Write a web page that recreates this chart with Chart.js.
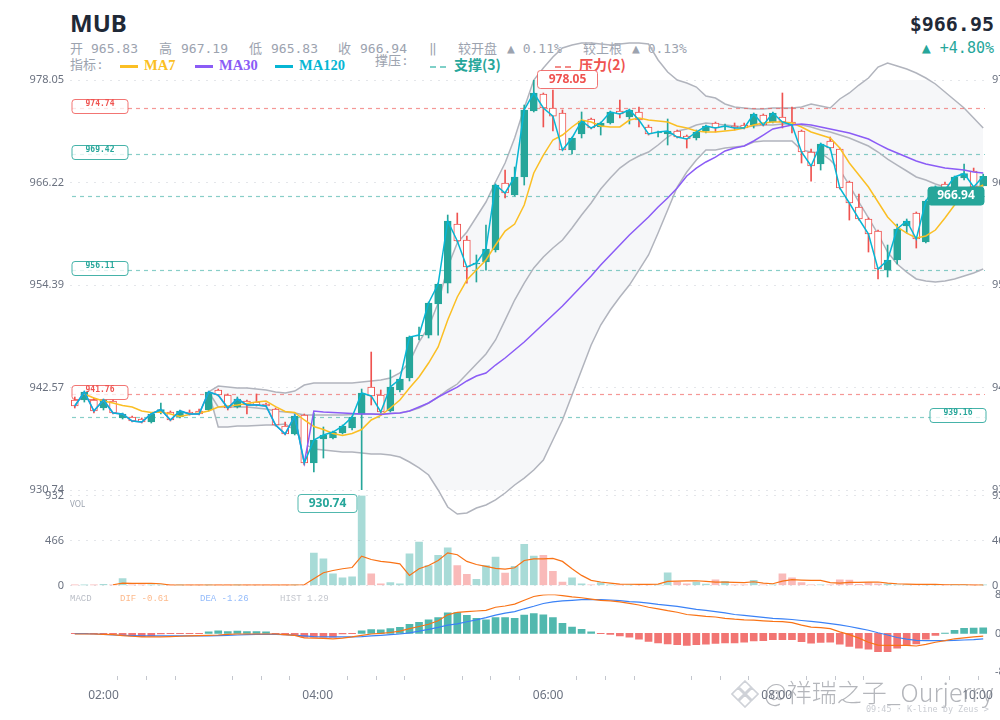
<!DOCTYPE html>
<html>
<head>
<meta charset="utf-8">
<title>MUB</title>
<script src="https://cdn.jsdelivr.net/npm/chart.js@4"></script>
<style>
  html, body { margin: 0; padding: 0; background: #fff; }
  body { width: 1000px; height: 720px; position: relative; overflow: hidden; font-family: "Noto Sans", sans-serif; }
  canvas { position: absolute; left: 0; }
  .t { position: absolute; white-space: nowrap; line-height: 1; }
  .mono { font-family: "DejaVu Sans Mono", "Noto Sans CJK SC", monospace; }
  .grey { color: #9ca3af; font-size: 13px; top: 42px; }
  .ma { font-family: "Liberation Serif", serif; font-weight: bold; font-size: 14.5px; top: 58px; }
  .key { position: absolute; top: 65px; width: 18px; height: 3px; }
  .lvl { font-family: "Noto Sans CJK SC", sans-serif; font-weight: bold; font-size: 14px; top: 57px; }
  .dash { position: absolute; top: 66px; width: 16px; height: 0; border-top: 2px dashed; }
  .sub { font-family: "Liberation Mono", monospace; font-size: 9px; top: 595px; }
</style>
</head>
<body>
<div class="t" style="left:70px;top:11px;font-size:24px;font-weight:bold;color:#1f2937">MUB</div>
<div class="t mono" style="right:6px;top:14px;font-size:20px;font-weight:bold;color:#1f2937">$966.95</div>
<div class="t mono" style="right:6px;top:41px;font-size:15px;color:#26a69a">▲ +4.80%</div>

<div class="t mono grey" style="left:70px">开</div><div class="t mono grey" style="left:91px">965.83</div>
<div class="t mono grey" style="left:159px">高</div><div class="t mono grey" style="left:181px">967.19</div>
<div class="t mono grey" style="left:249px">低</div><div class="t mono grey" style="left:271px">965.83</div>
<div class="t mono grey" style="left:338px">收</div><div class="t mono grey" style="left:360px">966.94</div>
<div class="t mono grey" style="left:429px">‖</div>
<div class="t mono grey" style="left:458px">较开盘</div><div class="t mono grey" style="left:507px">▲ 0.11%</div>
<div class="t mono grey" style="left:583px">较上根</div><div class="t mono grey" style="left:632px">▲ 0.13%</div>

<div class="t mono grey" style="left:70px;top:58px">指标:</div>
<div class="key" style="left:120px;background:#fbbf24"></div><div class="t ma" style="left:144px;color:#fbbf24">MA7</div>
<div class="key" style="left:195px;background:#8b5cf6"></div><div class="t ma" style="left:219px;color:#8b5cf6">MA30</div>
<div class="key" style="left:275px;background:#06b6d4"></div><div class="t ma" style="left:299px;color:#06b6d4">MA120</div>
<div class="t mono grey" style="left:375px;top:54px">撑压:</div>
<div class="dash" style="left:430px;border-color:#7fd0c8"></div><div class="t lvl" style="left:454px;color:#26a69a">支撑(3)</div>
<div class="dash" style="left:555px;border-color:#f28b88"></div><div class="t lvl" style="left:579px;color:#ef5350">压力(2)</div>

<canvas id="volChart" width="1000" height="115" style="top:483px"></canvas>
<canvas id="macdChart" width="1000" height="139" style="top:581px"></canvas>
<canvas id="priceChart" width="1000" height="495" style="top:30px"></canvas>

<div class="t" style="left:70px;top:500px;font-size:8px;color:#9ca3af">VOL</div>
<div class="t sub" style="left:70px;color:#b9bdc6">MACD</div>
<div class="t sub" style="left:120px;color:#fdba8c">DIF -0.61</div>
<div class="t sub" style="left:200px;color:#93bbfb">DEA -1.26</div>
<div class="t sub" style="left:280px;color:#c4c7ce">HIST 1.29</div>

<svg style="position:absolute;left:731px;top:680px" width="28" height="28" viewBox="0 0 28 28" fill="none" stroke="#cfd2d8" stroke-width="1.6">
  <path d="M14 1 L20 7 L14 13 L8 7 Z M14 15 L20 21 L14 27 L8 21 Z M7 8 L13 14 L7 20 L1 14 Z M21 8 L27 14 L21 20 L15 14 Z"/>
</svg>
<div class="t" style="left:764px;top:679px;font-family:'Noto Sans CJK SC',sans-serif;font-weight:300;font-size:25px;color:rgba(130,134,142,.6)">@祥瑞之子_Ourjerry</div>
<div class="t" style="left:866px;top:705px;font-family:'DejaVu Sans Mono',monospace;font-size:8.5px;color:#c9ccd2">09:45 · K-line by Zeus &gt;</div>

<script>
const times = ['01:50','01:55','02:00','02:05','02:10','02:15','02:20','02:25','02:30','02:35','02:40','02:45','02:50','02:55','03:00','03:05','03:10','03:15','03:20','03:25','03:30','03:35','03:40','03:45','03:50','03:55','04:00','04:05','04:10','04:15','04:20','04:25','04:30','04:35','04:40','04:45','04:50','04:55','05:00','05:05','05:10','05:15','05:20','05:25','05:30','05:35','05:40','05:45','05:50','05:55','06:00','06:05','06:10','06:15','06:20','06:25','06:30','06:35','06:40','06:45','06:50','06:55','07:00','07:05','07:10','07:15','07:20','07:25','07:30','07:35','07:40','07:45','07:50','07:55','08:00','08:05','08:10','08:15','08:20','08:25','08:30','08:35','08:40','08:45','08:50','08:55','09:00','09:05','09:10','09:15','09:20','09:25','09:30','09:35','09:40','09:45'];

const opens = [941.12,941.12,941.12,940.20,941.01,939.05,939.16,938.93,938.59,939.74,939.74,939.16,939.74,939.86,939.97,942.28,941.70,940.32,941.01,940.89,940.66,940.09,938.12,937.20,939.39,933.86,936.62,936.74,937.32,937.89,939.51,942.62,941.70,939.86,942.28,943.66,948.51,948.62,952.20,954.62,961.43,959.59,956.82,957.05,958.43,966.16,964.78,966.86,974.47,976.43,974.82,974.24,969.97,971.82,973.55,972.63,973.09,974.47,973.78,974.36,972.63,971.93,971.82,972.16,971.59,971.36,972.16,973.09,972.63,972.74,972.86,972.86,974.01,973.20,973.78,973.20,972.16,969.74,968.36,971.01,970.09,966.28,963.40,962.01,960.62,956.12,957.28,961.20,962.70,959.36,964.09,966.05,965.59,966.74,967.55,965.83];
const highs = [941.47,942.16,941.36,941.24,941.12,939.62,939.28,939.05,939.62,940.78,939.86,939.97,939.97,940.09,942.16,942.39,941.82,941.47,941.12,941.82,940.78,940.20,938.59,939.51,939.51,939.62,938.01,937.55,938.24,939.28,942.39,946.66,942.28,944.59,943.66,948.51,949.55,952.43,954.62,962.47,962.70,960.05,957.86,961.32,966.05,967.66,968.01,975.16,978.05,976.55,976.89,974.59,971.47,974.36,973.66,973.20,974.47,975.74,974.70,974.93,972.86,972.16,973.55,972.28,971.70,972.28,972.86,973.20,972.97,973.09,973.09,974.24,974.13,974.36,976.55,974.93,972.28,970.09,970.78,971.47,970.20,966.39,964.89,962.13,960.74,959.01,961.43,962.01,962.82,964.20,965.83,966.28,966.97,968.36,967.89,967.19];
const lows = [940.20,940.89,939.62,939.97,939.51,938.93,938.59,938.47,938.47,939.51,938.70,939.05,939.39,939.39,939.86,941.59,939.97,940.20,939.51,940.43,940.32,938.12,937.09,937.09,933.62,932.82,934.43,936.62,937.20,937.66,930.74,940.55,939.62,939.74,942.05,943.32,948.05,948.28,948.62,953.47,959.36,954.62,954.74,956.12,958.20,964.43,964.66,965.93,974.36,972.63,972.16,969.97,969.51,971.36,972.40,971.70,972.97,973.66,972.97,972.63,971.70,971.47,970.55,971.36,970.20,971.13,971.93,972.05,972.28,972.28,972.40,972.51,972.74,973.09,972.51,971.93,968.47,966.39,967.66,969.97,965.47,961.89,961.89,958.20,955.09,955.32,956.82,960.39,958.66,959.24,963.97,965.12,965.47,966.51,965.59,965.83];
const closes = [940.43,942.05,939.86,941.12,939.62,939.51,938.70,938.59,939.51,940.03,938.82,939.86,939.51,939.51,942.05,941.70,940.20,941.24,940.55,940.55,940.43,938.24,937.20,939.28,933.86,936.51,937.09,937.43,938.12,939.16,941.93,941.59,939.74,942.62,943.55,948.39,948.62,952.32,954.51,961.78,959.47,956.47,956.93,958.55,965.93,965.01,966.86,974.59,976.55,974.82,973.89,969.97,971.36,973.32,972.51,973.09,974.36,974.13,974.59,973.43,971.82,972.05,972.16,971.47,971.24,972.05,972.74,972.51,972.74,972.51,972.51,974.13,972.86,974.24,973.20,972.86,969.74,968.13,970.66,970.20,965.59,963.86,962.01,960.28,956.24,957.28,960.86,961.78,959.70,964.09,965.70,965.36,966.86,967.26,965.70,966.94];

const ma7 = [null,941.82,941.36,941.01,940.78,940.49,940.32,939.86,939.68,939.74,939.51,939.22,939.45,939.62,939.86,940.32,940.43,940.55,940.72,940.89,941.01,940.37,939.80,939.68,938.82,938.07,937.72,937.26,937.03,937.26,937.72,938.82,939.34,940.20,941.12,942.51,943.78,945.39,947.24,950.35,953.01,954.97,956.12,957.28,959.01,960.62,961.43,963.63,967.32,969.39,971.13,971.70,972.63,973.43,973.20,972.74,972.63,972.63,973.43,973.66,973.43,973.32,973.20,972.74,972.51,972.16,972.05,972.05,972.16,972.28,972.51,972.86,973.09,973.20,973.20,973.09,972.63,972.05,971.70,971.36,970.20,968.47,967.09,965.70,963.97,962.24,961.09,960.39,959.82,960.05,960.74,962.13,963.63,964.43,965.36,965.93];
const ma30 = [940.43,942.05,939.86,941.12,939.62,939.51,938.70,938.59,939.51,940.03,938.82,939.86,939.51,939.51,942.05,941.70,940.20,941.24,940.55,940.55,940.43,938.24,937.20,939.28,933.86,939.86,939.74,939.68,939.62,939.57,939.51,939.51,939.45,939.57,939.62,939.86,940.32,940.78,941.47,942.05,942.62,943.32,943.89,944.24,945.16,945.97,946.89,947.82,948.86,949.89,950.93,951.97,953.12,954.28,955.43,956.70,957.86,959.01,960.16,961.20,962.24,963.40,964.43,965.59,966.97,967.89,968.59,969.16,969.86,970.20,970.43,971.01,971.70,972.40,972.63,972.86,972.97,972.86,972.63,972.40,972.16,971.93,971.59,971.24,970.66,970.09,969.63,969.16,968.70,968.36,968.13,967.89,967.78,967.66,967.43,967.32];
const ma120 = closes;

const bollUpper = [null,null,null,null,null,null,null,null,null,null,null,null,null,null,942.05,942.74,942.62,942.51,942.51,942.39,942.28,942.05,941.93,942.16,942.85,943.09,943.09,943.09,943.09,943.09,943.20,943.32,943.43,943.66,944.24,945.51,947.82,949.55,952.32,956.47,959.24,960.51,962.24,963.97,966.28,968.47,971.36,974.82,978.05,979.43,980.70,981.74,982.09,982.32,982.32,982.20,982.09,982.20,982.32,982.32,982.20,980.36,978.97,978.05,977.70,977.24,976.20,975.97,975.28,974.93,974.82,974.70,974.70,974.82,974.82,974.82,974.93,975.28,975.05,974.82,975.86,976.55,977.47,978.28,979.55,980.01,979.66,979.32,978.86,978.28,977.59,976.66,975.74,974.82,973.66,972.51];
const bollMid = [null,null,null,null,null,null,null,null,null,null,null,null,null,null,942.05,940.32,940.32,940.32,940.32,940.20,940.09,939.86,939.74,939.62,939.39,939.39,939.39,939.39,939.39,939.45,939.51,939.51,939.51,939.57,939.62,939.86,940.20,940.78,941.47,942.28,942.97,944.12,945.28,946.43,948.05,950.35,952.66,954.62,956.36,957.62,958.66,959.59,960.97,962.47,963.86,965.47,966.74,967.89,968.70,969.28,969.74,970.55,971.47,972.16,972.40,972.86,973.09,972.97,972.86,972.74,972.63,972.74,972.86,972.86,972.97,972.97,972.86,972.63,972.28,972.05,971.70,971.36,970.89,970.43,969.74,968.93,968.24,967.55,966.86,966.51,966.05,965.70,965.59,965.59,965.70,965.81];
const bollLower = [null,null,null,null,null,null,null,null,null,null,null,null,null,null,942.05,938.01,938.01,938.12,938.12,938.18,938.24,938.24,938.36,937.66,936.05,935.47,935.36,935.24,935.12,935.12,935.01,934.89,934.89,934.78,934.55,933.97,933.28,932.47,930.74,928.78,927.97,928.09,928.66,929.01,929.59,930.39,931.32,932.12,933.05,934.20,936.51,938.82,941.70,944.59,947.47,949.78,951.51,953.01,954.39,956.12,957.86,960.39,963.05,965.70,967.43,968.82,969.97,969.97,970.20,970.32,970.43,970.89,971.01,971.01,971.01,971.01,969.97,969.74,969.63,968.82,967.66,965.93,963.97,962.13,960.28,958.20,956.82,955.89,955.09,954.86,954.74,954.86,955.09,955.43,955.78,956.24];

const volumes = [3,3,3,10,3,70,3,3,3,3,3,3,3,3,3,3,3,3,3,3,3,3,3,5,7,335,276,121,79,90,932,121,17,28,17,328,449,207,311,390,207,114,62,207,293,128,197,425,304,311,145,35,79,17,7,28,5,3,3,3,3,3,131,35,17,35,14,59,41,3,3,52,5,5,121,79,28,7,7,7,59,55,10,28,17,14,5,4,4,3,3,3,3,3,3,3];
const volMa = [null,null,null,null,7,24,22,21,21,17,3,3,3,3,3,3,3,3,3,3,3,3,3,3,7,69,131,155,173,186,304,269,249,238,224,104,173,207,259,338,318,249,217,197,176,169,183,259,276,276,280,249,173,104,52,35,24,14,12,10,10,14,41,45,47,48,41,35,35,31,28,38,24,17,45,59,55,52,52,28,24,31,31,35,35,24,17,14,10,10,10,7,7,7,3,3];

const macdHist = [-0.05,-0.05,-0.1,-0.1,-0.2,-0.36,-0.57,-0.72,-0.57,-0.14,-0.07,-0.07,-0.07,-0.07,0.36,0.57,0.43,0.5,0.43,0.43,0.36,-0.14,-0.36,-0.36,-0.86,-0.86,-0.86,-0.86,-0.14,-0.07,0.57,0.86,0.79,1.07,1.36,2.07,2.5,3.07,3.57,4.65,4.72,4.08,3.43,3.07,3.57,3.57,3.43,4.15,4.5,4.22,3.57,2.29,1.43,0.93,0.36,-0.07,-0.21,-0.57,-0.86,-1.29,-1.79,-2.15,-2.36,-2.57,-2.72,-2.57,-2.43,-2.29,-2.15,-2.15,-2.0,-1.72,-1.65,-1.43,-1.43,-1.43,-1.86,-2.22,-2.07,-2.0,-2.43,-2.93,-3.36,-3.58,-4.15,-4.15,-3.36,-2.72,-2.36,-1.29,-0.43,0.07,0.72,1.14,1.22,1.29];
const macdDif = [-0.14,-0.14,-0.14,-0.21,-0.29,-0.5,-0.64,-0.79,-0.79,-0.79,-0.72,-0.64,-0.57,-0.5,-0.43,-0.36,-0.21,-0.14,-0.14,-0.14,-0.14,-0.14,-0.29,-0.43,-1.0,-1.07,-1.14,-1.22,-1.07,-0.79,-0.43,-0.14,0,0.21,0.5,1.07,1.57,2.07,2.86,4.22,4.79,4.93,5.08,5.22,5.93,6.22,6.65,7.51,8.37,8.72,8.87,8.58,8.29,8.08,7.79,7.51,7.36,7.15,6.79,6.44,5.93,5.58,5.15,4.79,4.29,4.08,3.86,3.72,3.43,3.22,3.07,3.0,2.86,2.72,2.65,2.43,1.86,1.43,1.29,1.07,0.36,-0.29,-1.07,-2.0,-2.65,-2.72,-2.72,-2.72,-2.86,-2.5,-2.0,-1.64,-1.22,-1.0,-0.79,-0.61];
const macdDea = [-0.07,-0.07,-0.14,-0.21,-0.36,-0.43,-0.5,-0.57,-0.57,-0.57,-0.57,-0.57,-0.57,-0.57,-0.57,-0.5,-0.43,-0.36,-0.29,-0.21,-0.21,-0.21,-0.29,-0.43,-0.57,-0.72,-0.79,-0.79,-0.79,-0.79,-0.72,-0.57,-0.43,-0.29,-0.14,0.14,0.5,0.93,1.36,1.86,2.15,2.65,3.07,3.58,4.15,4.58,4.93,5.58,6.15,6.79,7.15,7.36,7.51,7.65,7.65,7.65,7.58,7.44,7.22,7.08,6.86,6.58,6.36,6.15,5.79,5.43,5.22,4.93,4.65,4.29,4.08,3.86,3.65,3.43,3.29,3.15,2.93,2.72,2.5,2.22,1.93,1.57,1.14,0.72,0.14,-0.36,-0.93,-1.29,-1.57,-1.64,-1.64,-1.64,-1.57,-1.5,-1.43,-1.26];

const priceTicks = [978.05, 966.22, 954.39, 942.57, 930.74];
const volTicks = [932, 466, 0];
const macdTicks = [8.8, 0, -8.8];
const xLabels = ['02:00', '04:00', '06:00', '08:00', '10:00'];
const xLabelPos = [3, 25.4, 49.5, 73.4, 94.4];
const xMarkPos = [4.5, 7.5, 10.5, 16.5, 19.5, 22.5, 28.5, 31.5, 34.5, 40.5, 43.5, 46.5, 52.5, 55.5, 58.5, 64.5, 67.5, 70.5, 76.5, 79.5, 82.5, 88.5, 91.5, 94.5];
const supportLevels = [969.42, 964.66, 956.11, 939.16];
const resistLevels = [974.74, 941.76];

const UP = '#26a69a';
const DOWN = '#ef5350';
const isUp = i => closes[i] >= opens[i];
const zip2 = (a, b) => a.map((v, i) => [v, b[i]]);

const AREA_LEFT = 70, AXIS_RIGHT = 12;
const dotted = { color: '#e4e6ea', drawTicks: false };

function yAxes(ticks, min, max, fmt, rightPad, gridOn) {
    const setTicks = s => { s.ticks = ticks.map(v => ({ value: v })); };
    const base = { min, max, border: { display: false, dash: [2, 6] }, afterBuildTicks: setTicks };
    return {
        y: { ...base, position: 'left', grid: gridOn ? dotted : { display: false },
             ticks: { padding: 6, color: '#6b7280', font: { size: 11, family: '"Noto Sans"' }, autoSkip: false, callback: fmt,
                      display: ticks !== macdTicks },
             afterFit: s => { s.width = AREA_LEFT; } },
        yr: { ...base, position: 'right', grid: { display: false, drawTicks: false },
              ticks: { padding: rightPad, color: '#6b7280', font: { size: 11, family: '"Noto Sans"' }, autoSkip: false, callback: fmt },
              afterFit: s => { s.width = AXIS_RIGHT; } }
    };
}
const hiddenX = { type: 'category', offset: true, display: false };
const baseOpts = { responsive: false, animation: false, events: [], devicePixelRatio: 1,
    plugins: { legend: { display: false }, tooltip: { enabled: false } },
    datasets: { bar: { grouped: false } } };

function roundBox(ctx, x, y, w, h, stroke, fill) {
    ctx.beginPath();
    ctx.roundRect(x, y, w, h, 3);
    ctx.fillStyle = fill;
    ctx.fill();
    ctx.lineWidth = 1;
    ctx.strokeStyle = stroke;
    ctx.stroke();
}
function boxText(ctx, txt, x, y, color, font) {
    ctx.font = font;
    ctx.fillStyle = color;
    ctx.textAlign = 'center';
    ctx.textBaseline = 'middle';
    ctx.fillText(txt, x, y);
}

// dashed support / resistance lines with their small tags, drawn right after the band fill
const levelLines = {
    id: 'levelLines',
    afterDatasetDraw(chart, args) {
        if (args.index !== 0) return;
        const { ctx, chartArea } = chart;
        const sy = chart.scales.y;
        const smallFont = 'bold 8px "DejaVu Sans Mono"';
        const draw = (levels, line, stroke, color) => levels.forEach(v => {
            const py = Math.floor(sy.getPixelForValue(v)) + 0.5;
            ctx.save();
            ctx.setLineDash([4, 4]);
            ctx.lineWidth = 1.2;
            ctx.strokeStyle = line;
            ctx.beginPath();
            ctx.moveTo(chartArea.left + 2, py);
            ctx.lineTo(chartArea.right - 3, py);
            ctx.stroke();
            ctx.restore();
            if (v === supportLevels[1]) return;
            const bx = v === supportLevels[3] ? 930 : 72;
            const by = py - 9;
            roundBox(ctx, bx, by, 56, 14, stroke, 'rgba(255,255,255,.75)');
            boxText(ctx, v.toFixed(2), bx + 28, by + 4.5, color, smallFont);
        });
        draw(resistLevels, 'rgba(239,83,80,.6)', 'rgba(239,83,80,.8)', DOWN);
        draw(supportLevels, 'rgba(38,166,154,.55)', 'rgba(38,166,154,.85)', UP);
    },
    afterDatasetsDraw(chart) {
        const { ctx } = chart;
        const sy = chart.scales.y;
        const font = 'bold 12px "Noto Sans"';
        const maxV = Math.max(...highs), minV = Math.min(...lows), last = closes[closes.length - 1];
        let py = sy.getPixelForValue(maxV);
        roundBox(ctx, 537.5, py - 9.5, 60, 18, 'rgba(239,83,80,.8)', '#fff');
        boxText(ctx, maxV.toFixed(2), 567.5, py, DOWN, font);
        py = sy.getPixelForValue(minV);
        roundBox(ctx, 298, py + 4.5, 59, 18, 'rgba(38,166,154,.8)', '#fff');
        boxText(ctx, minV.toFixed(2), 327.5, py + 13.5, UP, font);
        py = sy.getPixelForValue(supportLevels[1]);
        roundBox(ctx, 928, py - 9, 56, 18, UP, UP);
        boxText(ctx, last.toFixed(2), 956, py, '#fff', font);
    }
};

const bandLine = (data, order, extra) => ({ type: 'line', data, yAxisID: 'y', order, borderColor: '#b1b4bd', borderWidth: 1.5,
    pointRadius: 0, spanGaps: false, clip: { left: 0, right: 0, top: 50, bottom: 35 }, ...extra });
const maLine = (data, color, order) => ({ type: 'line', data, yAxisID: 'y', order, borderColor: color, borderWidth: 1.5, pointRadius: 0, fill: false });

new Chart(document.getElementById('priceChart'), {
    type: 'bar',
    plugins: [levelLines],
    data: {
        labels: times,
        datasets: [
            bandLine(bollUpper, 10, { fill: { target: 2 }, backgroundColor: '#f6f7f9' }),
            bandLine(bollMid, 9, { fill: false }),
            bandLine(bollLower, 9, { fill: false }),
            { data: zip2(lows, highs), yAxisID: 'y', order: 6, barThickness: 1,
              backgroundColor: c => isUp(c.dataIndex) ? UP : DOWN },
            { data: zip2(opens, closes), yAxisID: 'y', order: 5, barThickness: 7, borderWidth: 1, borderSkipped: false,
              backgroundColor: c => isUp(c.dataIndex) ? UP : '#fff',
              borderColor: c => isUp(c.dataIndex) ? UP : DOWN },
            maLine(ma7, '#fbbf24', 3),
            maLine(ma30, '#8b5cf6', 2),
            maLine(ma120, '#06b6d4', 1)
        ]
    },
    options: { ...baseOpts,
        layout: { padding: { top: 50, bottom: 35, left: 0, right: 0 } },
        scales: { x: hiddenX, ...yAxes(priceTicks, 930.74, 978.05, v => v.toFixed(2), 4, true) }
    }
});

new Chart(document.getElementById('volChart'), {
    type: 'bar',
    data: {
        labels: times,
        datasets: [
            { data: volumes, yAxisID: 'y', order: 2, barThickness: 7,
              backgroundColor: c => isUp(c.dataIndex) ? 'rgba(38,166,154,.4)' : 'rgba(239,83,80,.4)' },
            { type: 'line', data: volMa, yAxisID: 'y', order: 1, borderColor: '#f97316', borderWidth: 1.2, pointRadius: 0, fill: false }
        ]
    },
    options: { ...baseOpts,
        layout: { padding: { top: 8, bottom: 7, left: 0, right: 0 } },
        scales: { x: hiddenX, ...yAxes(volTicks, 0, 932, v => String(v), 4, true) }
    }
});

new Chart(document.getElementById('macdChart'), {
    type: 'bar',
    data: {
        labels: times,
        datasets: [
            { data: macdHist, yAxisID: 'y', xAxisID: 'x', order: 3, barThickness: 7,
              backgroundColor: c => macdHist[c.dataIndex] >= 0 ? 'rgba(38,166,154,.8)' : 'rgba(239,83,80,.8)' },
            { type: 'line', data: macdDea, yAxisID: 'y', xAxisID: 'x', order: 2, borderColor: '#3b82f6', borderWidth: 1.2, pointRadius: 0, fill: false },
            { type: 'line', data: macdDif, yAxisID: 'y', xAxisID: 'x', order: 1, borderColor: '#f97316', borderWidth: 1.2, pointRadius: 0, fill: false }
        ]
    },
    options: { ...baseOpts,
        layout: { padding: { top: 5, bottom: 0, left: 0, right: 0 } },
        scales: {
            x: hiddenX,
            xTime: {
                type: 'linear', position: 'bottom', min: -0.5, max: 95.5, offset: false, border: { display: false },
                grid: { offset: false, drawOnChartArea: false, drawTicks: true, tickLength: 4,
                        tickColor: c => (c.tick && xLabelPos.includes(c.tick.value)) ? 'rgba(0,0,0,0)' : '#c4c7ce' },
                afterBuildTicks: s => { s.ticks = xMarkPos.concat(xLabelPos).sort((a, b) => a - b).map(v => ({ value: v })); },
                afterFit: s => { s.height = 44; },
                ticks: { autoSkip: false, maxRotation: 0, minRotation: 0, padding: 8, color: '#6b7280',
                         font: { size: 12, family: '"Noto Sans"' },
                         callback: v => { const i = xLabelPos.indexOf(v); return i >= 0 ? xLabels[i] : ''; } }
            },
            ...yAxes(macdTicks, -9.66, 8.8, v => v.toFixed(2), 7, false)
        }
    }
});
</script>
</body>
</html>
